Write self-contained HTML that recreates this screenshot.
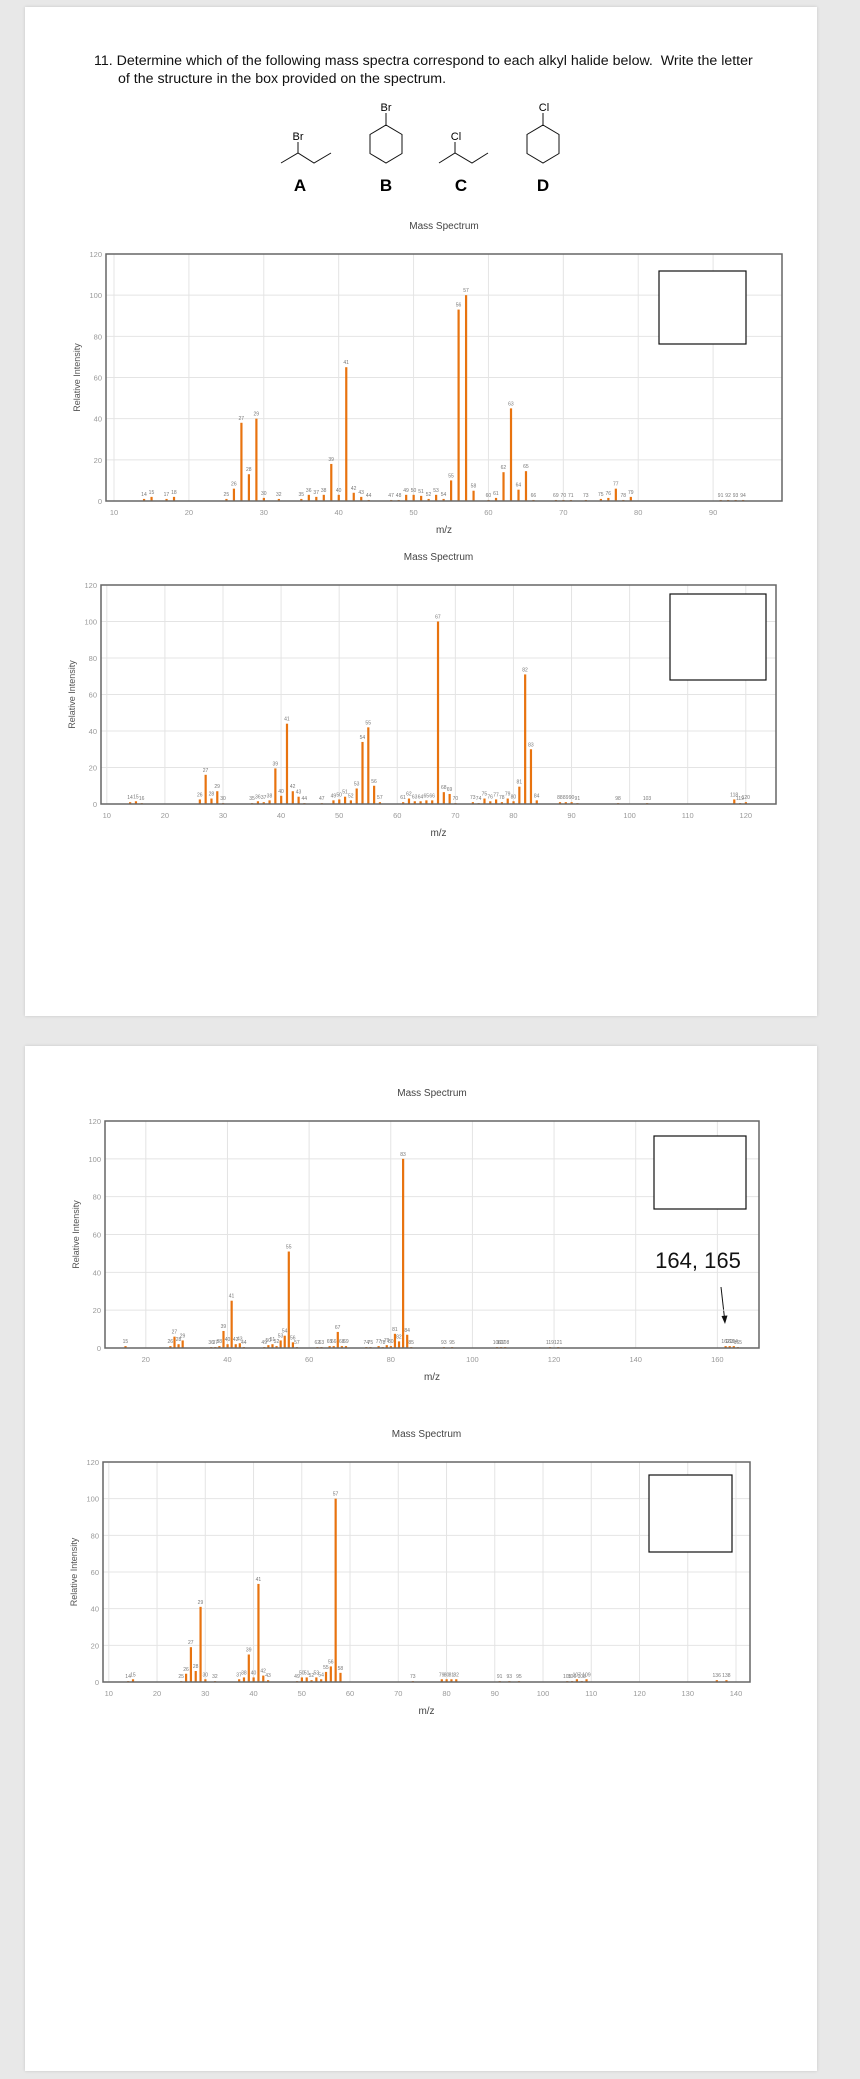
<!DOCTYPE html>
<html><head><meta charset="utf-8">
<style>
html,body{margin:0;padding:0;}
body{width:860px;height:2079px;background:#e8e8e8;position:relative;overflow:hidden;font-family:"Liberation Sans",sans-serif;}
.page{position:absolute;left:25px;width:792px;background:#fff;box-shadow:0 0 3px rgba(0,0,0,0.15);}
#q{position:absolute;left:94px;top:52px;font-size:14.2px;line-height:18px;color:#111;width:740px;white-space:nowrap;}
#q .l2{padding-left:24px;}
svg{position:absolute;left:0;top:0;}
</style></head>
<body>
<div class="page" style="top:7px;height:1009px"></div>
<div class="page" style="top:1046px;height:1025px"></div>
<div id="q">11. Determine which of the following mass spectra correspond to each alkyl halide below.&nbsp; Write the letter<div class="l2">of the structure in the box provided on the spectrum.</div></div>
<svg id="s" width="860" height="2079" xmlns="http://www.w3.org/2000/svg" font-family="Liberation Sans, sans-serif">
<g stroke="#111" fill="none" stroke-width="1">
<polyline points="281,163 298,153 314,163 331,153"/><line x1="298" y1="153" x2="298" y2="142"/></g>
<text x="298" y="140" font-size="11" text-anchor="middle">Br</text>
<text x="300" y="191" font-size="17" font-weight="bold" text-anchor="middle">A</text>
<g stroke="#111" fill="none" stroke-width="1">
<polygon points="386,125 402,134.5 402,153.5 386,163 370,153.5 370,134.5"/><line x1="386" y1="125" x2="386" y2="113"/></g>
<text x="386" y="111" font-size="11" text-anchor="middle">Br</text>
<text x="386" y="191" font-size="17" font-weight="bold" text-anchor="middle">B</text>
<g stroke="#111" fill="none" stroke-width="1">
<polyline points="439,163 455,153 472,163 488,153"/><line x1="455" y1="153" x2="455" y2="142"/></g>
<text x="456" y="140" font-size="11" text-anchor="middle">Cl</text>
<text x="461" y="191" font-size="17" font-weight="bold" text-anchor="middle">C</text>
<g stroke="#111" fill="none" stroke-width="1">
<polygon points="543,125 559,134.5 559,153.5 543,163 527,153.5 527,134.5"/><line x1="543" y1="125" x2="543" y2="113"/></g>
<text x="544" y="111" font-size="11" text-anchor="middle">Cl</text>
<text x="543" y="191" font-size="17" font-weight="bold" text-anchor="middle">D</text>
<text x="698" y="1268" font-size="22" text-anchor="middle" fill="#111">164, 165</text>
<line x1="721" y1="1287" x2="724.5" y2="1318" stroke="#111" stroke-width="1"/>
<polygon points="721.5,1316 727.5,1315.5 725,1324" fill="#111"/>
</svg>
<script>
const yTicks = [0, 20, 40, 60, 80, 100, 120];

const c1Mz = [14,15,17,18,25,26,27,28,29,30,32,35,36,37,38,39,40,41,42,43,44,47,48,49,50,51,52,53,54,55,56,57,58,60,61,62,63,64,65,66,69,70,71,73,75,76,77,78,79,91,92,93,94];
const c1Int = [1,2,1,2,1,6,38,13,40,1.5,1,1,3,2,3,18,3,65,4,2,0.5,0.5,0.5,3,3,2.5,1,3,1,10,93,100,5,0.5,1.5,14,45,5.5,14.5,0.5,0.5,0.5,0.5,0.5,1,1.5,6,0.5,2,0.5,0.5,0.5,0.5];
const c1XTicks = [10,20,30,40,50,60,70,80,90];

const c2Mz = [14,15,16,26,27,28,29,30,35,36,37,38,39,40,41,42,43,44,47,49,50,51,52,53,54,55,56,57,61,62,63,64,65,66,67,68,69,70,73,74,75,76,77,78,79,80,81,82,83,84,88,89,90,91,98,103,118,119,120];
const c2Int = [1,1.5,0.5,2.5,16,3,7,0.5,0.5,1.5,1,2,19.5,4.5,44,7,4,0.5,0.5,2,2.5,4,2,8.5,34,42,10,1,1,3,1.5,1.5,2,2,100,6.5,5.5,0.5,1,0.5,3,1.5,2.5,1,3,1.5,9.5,71,30,2,1,1,1,0.5,0.5,0.5,2.5,0.5,1];
const c2XTicks = [10,20,30,40,50,60,70,80,90,100,110,120];

const c3Mz = [15,26,27,28,29,36,37,38,39,40,41,42,43,44,49,50,51,52,53,54,55,56,57,62,63,65,66,67,68,69,74,75,77,78,79,80,81,82,83,84,85,93,95,106,107,108,119,121,162,163,164,165];
const c3Int = [1,1,6,2,4,0.5,0.5,1,9,2,25,2,2.5,0.5,0.5,1.5,2,1,4,6.5,51,3,0.5,0.5,0.5,1,1,8.5,1,1,0.5,0.5,1,0.5,1.5,1,7.5,3.5,100,7,0.5,0.5,0.5,0.5,0.5,0.5,0.5,0.5,1,1,1,0.5];
const c3XTicks = [20,40,60,80,100,120,140,160];

const c4Mz = [14,15,25,26,27,28,29,30,32,37,38,39,40,41,42,43,49,50,51,52,53,54,55,56,57,58,73,79,80,81,82,91,93,95,105,106,107,108,109,136,138];
const c4Int = [0.5,1.5,0.5,4.5,19,6,41,1.5,0.5,1.5,2.5,15,2.5,53.5,3.5,1,0.5,2.5,2.5,1,2.5,1.5,5.5,8.5,100,5,0.5,1.5,1.5,1.5,1.5,0.5,0.5,0.5,0.5,0.5,1.5,0.5,1.5,1,1];
const c4XTicks = [10,20,30,40,50,60,70,80,90,100,110,120,130,140];

const NS = 'http://www.w3.org/2000/svg';
const svg = document.getElementById('s');
function mk(tag, attrs, parent) {
  const e = document.createElementNS(NS, tag);
  for (const k in attrs) e.setAttribute(k, attrs[k]);
  (parent || svg).appendChild(e);
  return e;
}
function drawChart(id, mz, inten, xTicks, lay) {
  const g = mk('g', {});
  
  
  const xs = v => lay.left + (v - lay.d0) / (lay.d1 - lay.d0) * (lay.right - lay.left);
  const ys = v => lay.bottom - v / 120 * (lay.bottom - lay.top);
  const t = mk('text', {x: (lay.left + lay.right) / 2, y: lay.top - 25, 'font-size': 10, fill: '#444', 'text-anchor': 'middle'}, g);
  t.textContent = 'Mass Spectrum';
  
  
  yTicks.forEach(v => {
    const gl = mk('line', {x1: lay.left, x2: lay.right, y1: ys(v), y2: ys(v), stroke: '#e4e4e4', 'stroke-width': 1}, g);
    
    
    const tl = mk('text', {x: lay.left - 4, y: ys(v) + 3, 'font-size': 7.5, fill: '#999', 'text-anchor': 'end'}, g);
    tl.textContent = v;
    
    
  });
  xTicks.forEach(v => {
    const gl = mk('line', {x1: xs(v), x2: xs(v), y1: lay.top, y2: lay.bottom, stroke: '#e4e4e4', 'stroke-width': 1}, g);
    
    
    const tl = mk('text', {x: xs(v), y: lay.bottom + 14, 'font-size': 7.5, fill: '#999', 'text-anchor': 'middle'}, g);
    tl.textContent = v;
    
    
  });
  mz.forEach((m, i) => {
    const b = mk('rect', {x: xs(m) - 1, y: ys(inten[i]), width: 2.2, height: lay.bottom - ys(inten[i]), fill: '#e8730f'}, g);
    
    
    const l = mk('text', {x: xs(m), y: ys(inten[i]) - 3, 'font-size': 5, fill: '#777', 'text-anchor': 'middle'}, g);
    l.textContent = m;
    
    
  });
  const fr = mk('rect', {x: lay.left, y: lay.top, width: lay.right - lay.left, height: lay.bottom - lay.top, fill: 'none', stroke: '#666', 'stroke-width': 1.5}, g);
  
  
  const xl = mk('text', {x: (lay.left + lay.right) / 2, y: lay.bottom + 32, 'font-size': 10, fill: '#444', 'text-anchor': 'middle'}, g);
  xl.textContent = 'm/z';
  
  
  const cy = (lay.top + lay.bottom) / 2;
  const yl = mk('text', {x: lay.left - 26, y: cy, 'font-size': 9, fill: '#555', 'text-anchor': 'middle', transform: 'rotate(-90 ' + (lay.left - 26) + ' ' + cy + ')'}, g);
  yl.textContent = 'Relative Intensity';
  
  
  const bx = mk('rect', {x: lay.bx, y: lay.by, width: lay.bw, height: lay.bh, fill: '#fff', stroke: '#111', 'stroke-width': 1.2}, g);
  
  
}
drawChart('mass-spectrum-1', c1Mz, c1Int, c1XTicks, {left:106, right:782, top:254, bottom:501, d0:8.93, d1:99.2, bx:659, by:271, bw:87, bh:73});
drawChart('mass-spectrum-2', c2Mz, c2Int, c2XTicks, {left:101, right:776, top:585, bottom:804, d0:9.0, d1:125.2, bx:670, by:594, bw:96, bh:86});
drawChart('mass-spectrum-3', c3Mz, c3Int, c3XTicks, {left:105, right:759, top:1121, bottom:1348, d0:10, d1:170.2, bx:654, by:1136, bw:92, bh:73});
drawChart('mass-spectrum-4', c4Mz, c4Int, c4XTicks, {left:103, right:750, top:1462, bottom:1682, d0:8.8, d1:142.9, bx:649, by:1475, bw:83, bh:77});
</script>
</body></html>
